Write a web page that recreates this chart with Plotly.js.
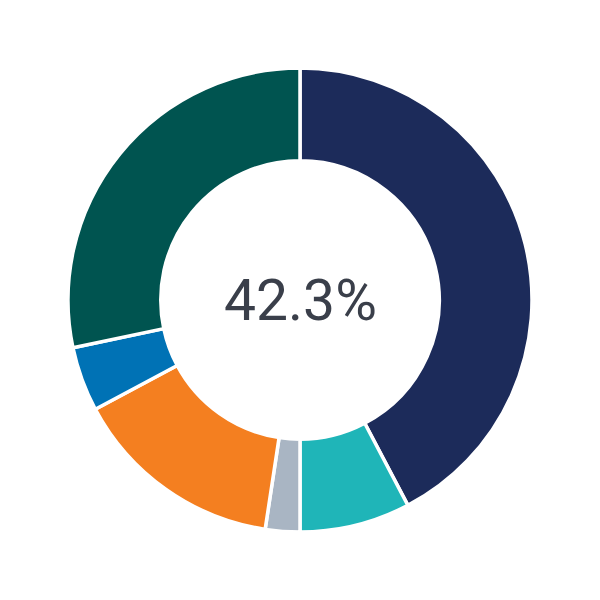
<!DOCTYPE html>
<html>
<head>
<meta charset="utf-8">
<script src="https://cdn.plot.ly/plotly-3.0.1.min.js"></script>
<style>
  html, body { margin: 0; padding: 0; background: #fff; }
  #chart { width: 600px; height: 600px; }
</style>
</head>
<body>
<div id="chart"></div>
<script>
// slices, clockwise from 12 o'clock
const labels = ["Navy", "Teal", "Gray", "Orange", "Blue", "Dark green"];
const values = [42.3, 7.7, 2.4, 14.8, 4.5, 28.3];
const colors = ["#1c2b5a", "#1fb5b8", "#a9b5c3", "#f47f20", "#0072b5", "#005450"];
const centerLabel = "42.3%";

Plotly.newPlot('chart', [{
  type: 'pie',
  labels: labels,
  values: values,
  hole: 0.6,
  sort: false,
  direction: 'clockwise',
  rotation: 0,
  textinfo: 'none',
  hoverinfo: 'label+percent',
  marker: { colors: colors, line: { color: '#ffffff', width: 3.5 } }
}], {
  width: 600,
  height: 600,
  margin: { l: 68, r: 68, t: 68, b: 68 },
  showlegend: false,
  paper_bgcolor: '#ffffff',
  annotations: [{
    text: centerLabel,
    x: 0.5, y: 0.5,
    xref: 'paper', yref: 'paper',
    showarrow: false,
    font: { family: 'Roboto, Arial, sans-serif', size: 57, color: '#3a3f4a' }
  }]
}, { staticPlot: true });
</script>
</body>
</html>
